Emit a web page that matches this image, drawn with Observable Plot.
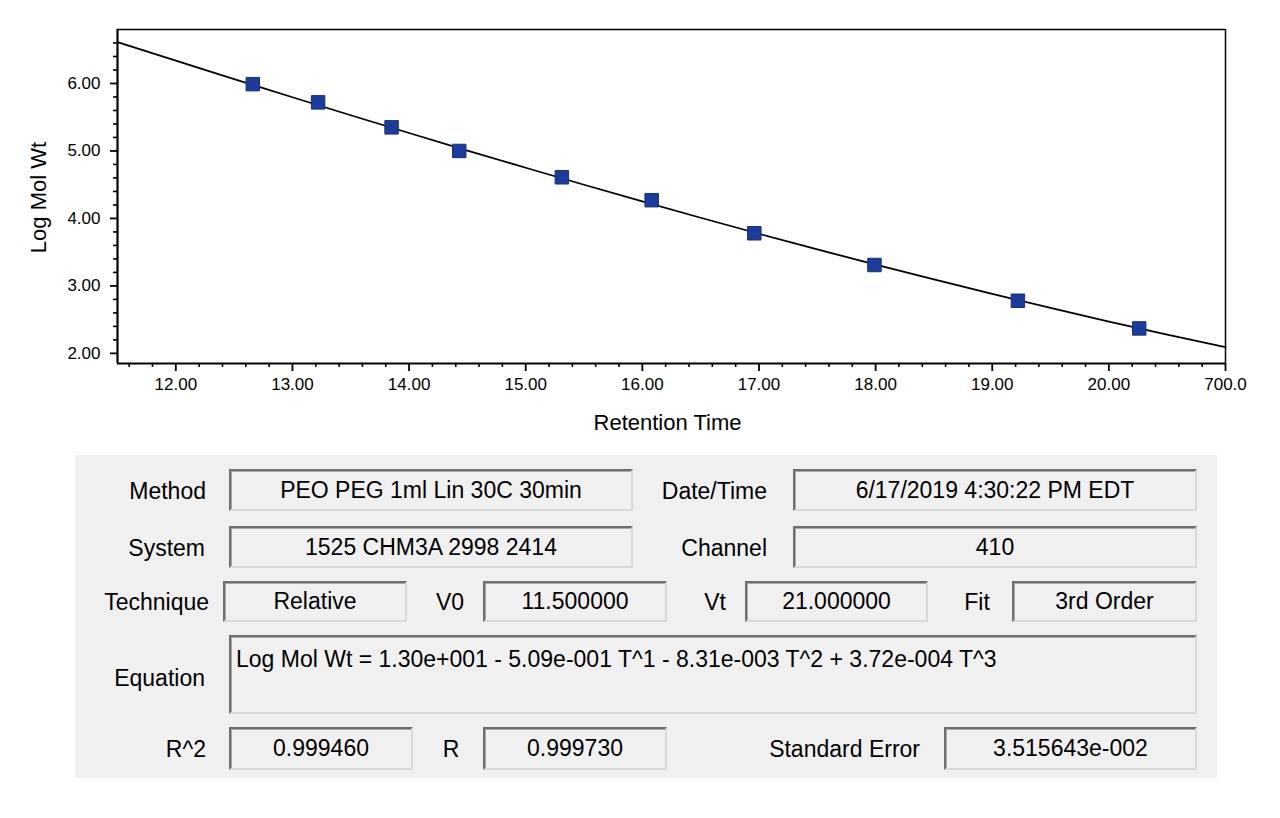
<!DOCTYPE html>
<html>
<head>
<meta charset="utf-8">
<script src="https://cdn.jsdelivr.net/npm/d3@7"></script>
<script src="https://cdn.jsdelivr.net/npm/@observablehq/plot@0.6"></script>
<style>
  body { margin: 0; background: #fff; font-family: "Liberation Sans", Arial, sans-serif; }
  #wrap { position: relative; width: 1280px; height: 818px; overflow: hidden; }
  #chart { position: absolute; left: 0; top: 0; }
  #panel { position: absolute; left: 75px; top: 455px; width: 1142px; height: 323px; background: #f0f0f0; }
  .box { position: absolute; box-sizing: border-box; background: #f0f0f0;
         border-top: 2px solid #6f6f6f; border-left: 2px solid #6f6f6f;
         border-right: 2px solid #d9d9d9; border-bottom: 2px solid #d9d9d9;
         box-shadow: inset 1px 1px 0 #a9a9a9;
         display: flex; align-items: center; justify-content: center;
         font-size: 23px; color: #000; white-space: nowrap; }
  .box.eq { align-items: flex-start; justify-content: flex-start; padding: 9px 0 0 5px; }
  .lbl { position: absolute; font-size: 23px; color: #000; white-space: nowrap; line-height: 1; }
</style>
</head>
<body>
<div id="wrap">
  <div id="chart"></div>
  <div id="panel"></div>
</div>
<script>
// ---- data ----
const retentionTime = [12.66, 13.22, 13.85, 14.43, 15.31, 16.08, 16.96, 17.99, 19.22, 20.26];
const logMolWt      = [5.99, 5.72, 5.35, 5.00, 4.61, 4.27, 3.78, 3.31, 2.78, 2.37];

const fitTime      = [11.5, 12, 12.5, 13, 13.5, 14, 14.5, 15, 15.5, 16, 16.5, 17, 17.5, 18, 18.5, 19, 19.5, 20, 20.5, 21];
const fitLogMolWt  = [6.613, 6.338, 6.066, 5.796, 5.529, 5.266, 5.006, 4.751, 4.499, 4.252, 4.010, 3.773, 3.541, 3.315, 3.095, 2.881, 2.673, 2.472, 2.278, 2.091];

const xTicks      = [12, 13, 14, 15, 16, 17, 18, 19, 20, 21];
const xTickLabels = ["12.00", "13.00", "14.00", "15.00", "16.00", "17.00", "18.00", "19.00", "20.00", "700.0"];
const yTicks      = [2, 3, 4, 5, 6];
const yTickLabels = ["2.00", "3.00", "4.00", "5.00", "6.00"];
const xDomain = [11.5, 21];
const yDomain = [1.85, 6.8];

const xLabel = "Retention Time";
const yLabel = "Log Mol Wt";

// panel fields
const panelLabels = ["Method", "Date/Time", "System", "Channel", "Technique", "V0", "Vt", "Fit", "Equation", "R^2", "R", "Standard Error"];
const panelValues = ["PEO PEG 1ml Lin 30C 30min", "6/17/2019 4:30:22 PM EDT", "1525 CHM3A 2998 2414", "410",
                     "Relative", "11.500000", "21.000000", "3rd Order",
                     "Log Mol Wt = 1.30e+001 - 5.09e-001 T^1 - 8.31e-003 T^2 + 3.72e-004 T^3",
                     "0.999460", "0.999730", "3.515643e-002"];

// ---- build tables ----
const points = retentionTime.map((t, i) => ({t, y: logMolWt[i]}));
const fit = fitTime.map((t, i) => ({t, y: fitLogMolWt[i]}));
const xMinor = d3.range(11.6, 20.95, 0.2).filter(v => Math.abs(v - Math.round(v)) > 1e-6);
const yMinor = d3.range(2.2, 6.75, 0.2).filter(v => Math.abs(v - Math.round(v)) > 1e-6);

const chart = Plot.plot({
  width: 1280,
  height: 445,
  marginLeft: 117,
  marginRight: 55,
  marginTop: 29,
  marginBottom: 82,
  style: {fontFamily: "'Liberation Sans', Arial, sans-serif", fontSize: "17px", color: "#000", background: "#fff"},
  x: {domain: xDomain},
  y: {domain: yDomain},
  marks: [
    Plot.axisX(xMinor, {tickSize: 4, tickFormat: () => "", strokeWidth: 1.6, label: null}),
    Plot.axisX(xTicks, {tickSize: 8, tickPadding: 6, fontSize: 17, strokeWidth: 1.8, label: null,
                        tickFormat: d => xTickLabels[xTicks.indexOf(d)]}),
    Plot.axisY(yMinor, {tickSize: 4, tickFormat: () => "", strokeWidth: 1.6, label: null}),
    Plot.axisY(yTicks, {tickSize: 7, tickPadding: 10, fontSize: 17, strokeWidth: 1.8, label: null,
                        tickFormat: d => yTickLabels[yTicks.indexOf(d)]}),
    Plot.ruleY([yDomain[1]], {stroke: "#000", strokeWidth: 1.5}),
    Plot.ruleX([xDomain[1]], {stroke: "#000", strokeWidth: 1.5}),
    Plot.line(fit, {x: "t", y: "y", stroke: "#000", strokeWidth: 1.8, curve: "natural"}),
    Plot.dot(points, {x: "t", y: "y", symbol: "square", r: 7.6, fill: "#1c3c9c", stroke: "#152f80", strokeWidth: 1}),
    Plot.ruleX([xDomain[0]], {stroke: "#000", strokeWidth: 2.2}),
    Plot.ruleY([yDomain[0]], {stroke: "#000", strokeWidth: 2.2}),
    Plot.text([yLabel], {text: d => d, frameAnchor: "left", textAnchor: "middle", lineAnchor: "middle",
                         dx: -79, dy: 1, rotate: -90, fontSize: 22}),
    Plot.text([xLabel], {text: d => d, frameAnchor: "bottom", textAnchor: "middle", lineAnchor: "middle",
                         dx: -4, dy: 59, fontSize: 22})
  ]
});
document.getElementById("chart").appendChild(chart);

// ---- info panel (page coordinates, converted to panel-relative) ----
const panel = document.getElementById("panel");
const PX = 75, PY = 455;
function box(text, x0, x1, y0, y1, cls) {
  const d = document.createElement("div");
  d.className = "box" + (cls ? " " + cls : "");
  d.style.left = (x0 - PX) + "px"; d.style.top = (y0 - PY) + "px";
  d.style.width = (x1 - x0) + "px"; d.style.height = (y1 - y0) + "px";
  d.textContent = text;
  panel.appendChild(d);
}
function label(text, x, y, anchor) {
  const d = document.createElement("div");
  d.className = "lbl";
  d.style.left = (x - PX) + "px"; d.style.top = (y - PY) + "px";
  const tx = anchor === "end" ? "-100%" : anchor === "middle" ? "-50%" : "0";
  d.style.transform = `translate(${tx}, -50%)`;
  d.textContent = text;
  panel.appendChild(d);
}
// row 1
label(panelLabels[0], 206, 491, "end");   box(panelValues[0], 229, 633, 469, 511);
label(panelLabels[1], 767, 491, "end");   box(panelValues[1], 793, 1197, 469, 511);
// row 2
label(panelLabels[2], 205, 548, "end");   box(panelValues[2], 229, 633, 526, 568);
label(panelLabels[3], 767, 548, "end");   box(panelValues[3], 793, 1197, 526, 568);
// row 3
label(panelLabels[4], 209, 602, "end");   box(panelValues[4], 223, 407, 581, 622);
label(panelLabels[5], 450, 602, "middle"); box(panelValues[5], 483, 667, 581, 622);
label(panelLabels[6], 715, 602, "middle"); box(panelValues[6], 745, 928, 581, 622);
label(panelLabels[7], 977, 602, "middle"); box(panelValues[7], 1012, 1197, 581, 622);
// row 4
label(panelLabels[8], 205, 678, "end");   box(panelValues[8], 229, 1197, 635, 714, "eq");
// row 5
label(panelLabels[9], 206, 749, "end");   box(panelValues[9], 229, 413, 727, 770);
label(panelLabels[10], 451, 749, "middle"); box(panelValues[10], 483, 667, 727, 770);
label(panelLabels[11], 920, 749, "end");  box(panelValues[11], 944, 1197, 727, 770);
</script>
</body>
</html>
